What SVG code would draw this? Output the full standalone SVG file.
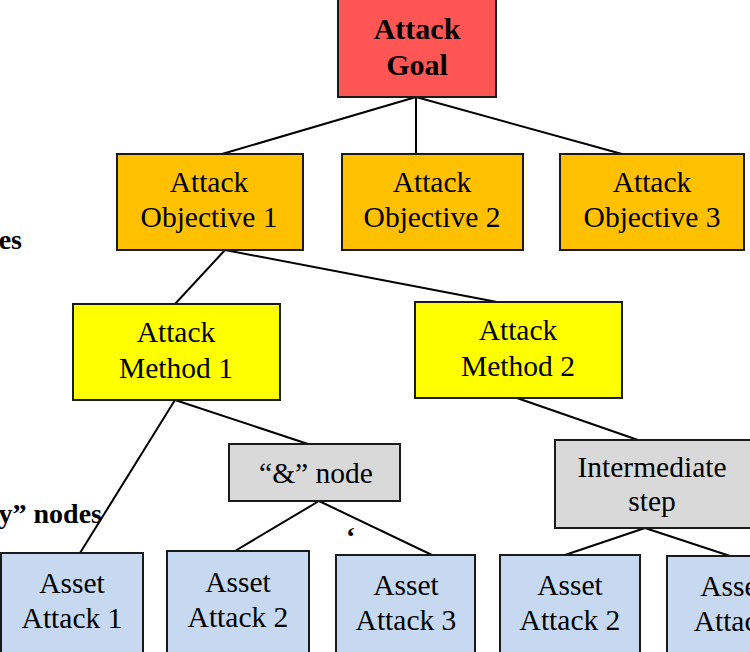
<svg xmlns="http://www.w3.org/2000/svg" width="750" height="652" viewBox="0 0 750 652">
<style>
.b{stroke:#1a1a1a;stroke-width:2}
.t{font-family:"Liberation Serif","Times New Roman",serif;font-size:29.5px;fill:#000;text-anchor:middle}
.bd{font-weight:bold;font-size:30px}
.l{font-family:"Liberation Serif","Times New Roman",serif;font-size:28px;font-weight:bold;fill:#000}
.goal{fill:#FF5555}.obj{fill:#FFC000}.meth{fill:#FFFF00}.gray{fill:#D9D9D9}.asset{fill:#C6D9F1}
.c line{stroke:#000;stroke-width:2}
</style>
<rect width="750" height="652" fill="#fff"/>
<g class="c" id="connectors">
<line x1="416" y1="97" x2="222" y2="154"/>
<line x1="416" y1="97" x2="416" y2="154"/>
<line x1="416" y1="97" x2="622" y2="154"/>
<line x1="225" y1="250" x2="175" y2="304"/>
<line x1="225" y1="250" x2="497" y2="302"/>
<line x1="175" y1="400" x2="80" y2="553"/>
<line x1="175" y1="400" x2="308" y2="444"/>
<line x1="517" y1="398" x2="638" y2="440"/>
<line x1="319" y1="501" x2="235" y2="551"/>
<line x1="319" y1="501" x2="432" y2="555"/>
<line x1="645" y1="528" x2="565" y2="555"/>
<line x1="645" y1="528" x2="730" y2="556"/>
</g>
<g id="goal"><rect class="b goal" x="338" y="-1" width="158" height="98"/>
<text class="t bd" x="417" y="39">Attack</text><text class="t bd" x="417" y="75">Goal</text></g>
<g id="obj1"><rect class="b obj" x="117" y="154" width="186" height="96"/>
<text class="t" x="209" y="192">Attack</text><text class="t" x="209" y="227">Objective 1</text></g>
<g id="obj2"><rect class="b obj" x="342" y="154" width="181" height="96"/>
<text class="t" x="432" y="192">Attack</text><text class="t" x="432" y="227">Objective 2</text></g>
<g id="obj3"><rect class="b obj" x="560" y="154" width="184" height="96"/>
<text class="t" x="652" y="192">Attack</text><text class="t" x="652" y="227">Objective 3</text></g>
<g id="method1"><rect class="b meth" x="73" y="304" width="207" height="96"/>
<text class="t" x="176" y="342">Attack</text><text class="t" x="176" y="378">Method 1</text></g>
<g id="method2"><rect class="b meth" x="415" y="302" width="207" height="96"/>
<text class="t" x="518" y="340">Attack</text><text class="t" x="518" y="376">Method 2</text></g>
<g id="andnode"><rect class="b gray" x="229" y="444" width="171" height="57"/>
<text class="t" x="316" y="483">“&amp;” node</text></g>
<g id="intermediate"><rect class="b gray" x="555" y="440" width="198" height="88"/>
<text class="t" x="652" y="477">Intermediate</text><text class="t" x="652" y="511">step</text></g>
<g id="asset1"><rect class="b asset" x="1" y="553" width="142" height="110"/>
<text class="t" x="72" y="593">Asset</text><text class="t" x="72" y="628">Attack 1</text></g>
<g id="asset2"><rect class="b asset" x="167" y="551" width="142" height="110"/>
<text class="t" x="238" y="592">Asset</text><text class="t" x="238" y="627">Attack 2</text></g>
<g id="asset3"><rect class="b asset" x="336" y="555" width="139" height="110"/>
<text class="t" x="406" y="595">Asset</text><text class="t" x="406" y="630">Attack 3</text></g>
<g id="asset2b"><rect class="b asset" x="500" y="555" width="140" height="110"/>
<text class="t" x="570" y="595">Asset</text><text class="t" x="570" y="630">Attack 2</text></g>
<g id="asset4"><rect class="b asset" x="667" y="556" width="144" height="110"/>
<text class="t" x="733" y="596">Asset</text><text class="t" x="733" y="631">Attack</text></g>
<text class="l" x="22" y="249" text-anchor="end">es</text>
<text class="l" x="102" y="523" text-anchor="end">y” nodes</text>
<text class="l" x="346" y="546">‘</text>
</svg>
